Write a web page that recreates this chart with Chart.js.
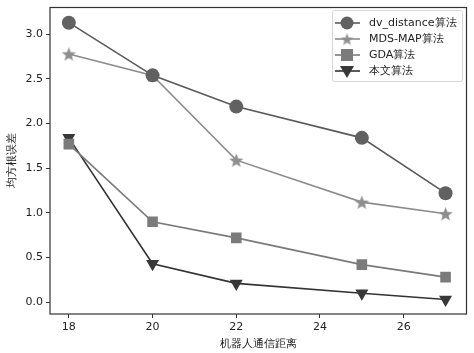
<!DOCTYPE html>
<html>
<head>
<meta charset="utf-8">
<script src="https://cdn.jsdelivr.net/npm/chart.js@4"></script>
<style>
  html, body { margin: 0; padding: 0; background: #fff; }
  #wrap { width: 474px; height: 353px; }
</style>
</head>
<body>
<div id="wrap"><canvas id="c" width="474" height="353"></canvas></div>
<script>
// Data
const distances = [18, 20, 22, 25, 27];
const dvDistance = [3.13, 2.54, 2.19, 1.84, 1.22];
const mdsMap = [2.78, 2.54, 1.59, 1.12, 0.99];
const gda = [1.77, 0.9, 0.72, 0.42, 0.28];
const ours = [1.84, 0.43, 0.21, 0.1, 0.03];

const seriesNames = ["dv_distance算法", "MDS-MAP算法", "GDA算法", "本文算法"];
const xTicks = [18, 20, 22, 24, 26];
const yTicks = [0, 0.5, 1.0, 1.5, 2.0, 2.5, 3.0];

const FONT = "'DejaVu Sans', sans-serif";

// filled five point star used as a marker
function makeStar(size, color) {
  const cv = document.createElement("canvas");
  cv.width = size;
  cv.height = size;
  const g = cv.getContext("2d");
  const cx = size / 2, cy = size / 2 + 0.8;
  const R = size / 2, r = R * 0.42;
  g.beginPath();
  for (let i = 0; i < 10; i++) {
    const rad = i % 2 === 0 ? R : r;
    const a = -Math.PI / 2 + (i * Math.PI) / 5;
    const px = cx + rad * Math.cos(a), py = cy + rad * Math.sin(a);
    if (i === 0) g.moveTo(px, py);
    else g.lineTo(px, py);
  }
  g.closePath();
  g.fillStyle = color;
  g.fill();
  return cv;
}

const starBig = makeStar(15, "#8e8e8e");
const starSmall = makeStar(13, "#8e8e8e");

function toPoints(vals) {
  return vals.map((v, i) => ({ x: distances[i], y: v }));
}

const datasets = [
  {
    label: seriesNames[0],
    data: toPoints(dvDistance),
    borderColor: "#5a5a5a",
    backgroundColor: "#616161",
    pointStyle: "circle",
    pointRadius: 7,
    legendMarker: "circle",
  },
  {
    label: seriesNames[1],
    data: toPoints(mdsMap),
    borderColor: "#8c8c8c",
    backgroundColor: "#8e8e8e",
    pointStyle: starBig,
    pointRadius: 7,
    legendMarker: "star",
  },
  {
    label: seriesNames[2],
    data: toPoints(gda),
    borderColor: "#7a7a7a",
    backgroundColor: "#7b7b7b",
    pointStyle: "rect",
    pointRadius: 7.5,
    legendMarker: "rect",
  },
  {
    label: seriesNames[3],
    data: toPoints(ours),
    borderColor: "#333333",
    backgroundColor: "#383838",
    pointStyle: "triangle",
    pointRotation: 180,
    pointRadius: 7.5,
    legendMarker: "triangle",
  },
];
datasets.forEach((d) => {
  d.borderWidth = 1.6;
  d.pointBorderWidth = 0;
  d.pointBorderColor = d.backgroundColor;
  d.pointBackgroundColor = d.backgroundColor;
  d.tension = 0;
  d.fill = false;
});

// frame around the plot area
const framePlugin = {
  id: "frame",
  afterDraw(chart) {
    const a = chart.chartArea;
    const ctx = chart.ctx;
    ctx.save();
    ctx.strokeStyle = "#333";
    ctx.lineWidth = 1.2;
    ctx.strokeRect(a.left, a.top, a.right - a.left, a.bottom - a.top);
    ctx.restore();
  },
};

// matplotlib style legend in the upper right corner
const legendPlugin = {
  id: "boxLegend",
  afterDraw(chart) {
    const ctx = chart.ctx;
    const bx = 332, by = 10, bw = 130, bh = 71;
    ctx.save();
    ctx.fillStyle = "rgba(255,255,255,0.85)";
    ctx.strokeStyle = "#d6d6d6";
    ctx.lineWidth = 1;
    ctx.beginPath();
    ctx.roundRect(bx + 0.5, by + 0.5, bw, bh, 2);
    ctx.fill();
    ctx.stroke();
    chart.data.datasets.forEach((d, i) => {
      const y = by + 13 + i * 16;
      ctx.strokeStyle = d.borderColor;
      ctx.lineWidth = 1.6;
      ctx.beginPath();
      ctx.moveTo(bx + 3, y);
      ctx.lineTo(bx + 28, y);
      ctx.stroke();
      ctx.fillStyle = d.backgroundColor;
      const mx = bx + 15;
      if (d.legendMarker === "circle") {
        ctx.beginPath();
        ctx.arc(mx, y, 6.5, 0, Math.PI * 2);
        ctx.fill();
      } else if (d.legendMarker === "star") {
        ctx.drawImage(starSmall, mx - 6.5, y - 6.5);
      } else if (d.legendMarker === "rect") {
        ctx.fillRect(mx - 6, y - 6, 12, 12);
      } else {
        ctx.beginPath();
        ctx.moveTo(mx - 7, y - 5);
        ctx.lineTo(mx + 7, y - 5);
        ctx.lineTo(mx, y + 7);
        ctx.closePath();
        ctx.fill();
      }
      ctx.fillStyle = "#222";
      ctx.font = "11px " + FONT;
      ctx.textBaseline = "middle";
      ctx.fillText(d.label, bx + 37, y);
    });
    ctx.restore();
  },
};

new Chart(document.getElementById("c"), {
  type: "line",
  data: { datasets: datasets },
  plugins: [framePlugin, legendPlugin],
  options: {
    responsive: false,
    animation: false,
    layout: { padding: { top: 3, right: 5, left: 0, bottom: 0 } },
    plugins: {
      legend: { display: false },
      tooltip: { enabled: false },
    },
    scales: {
      x: {
        type: "linear",
        min: 17.55,
        max: 27.5,
        afterBuildTicks: (s) => {
          s.ticks = xTicks.map((v) => ({ value: v }));
        },
        afterFit: (s) => {
          s.height = 39;
          s.paddingLeft = 0;
          s.paddingRight = 0;
        },
        grid: {
          display: true,
          drawOnChartArea: false,
          drawTicks: true,
          tickLength: 4,
          color: "#333",
        },
        border: { display: false },
        ticks: {
          color: "#222",
          font: { family: FONT, size: 11 },
          padding: 3,
          maxRotation: 0,
        },
        title: {
          display: true,
          text: "机器人通信距离",
          color: "#222",
          font: { family: FONT, size: 11 },
          padding: { top: 0, bottom: 2 },
        },
      },
      y: {
        min: -0.133,
        max: 3.3,
        afterBuildTicks: (s) => {
          s.ticks = yTicks.map((v) => ({ value: v }));
        },
        afterFit: (s) => {
          s.width = 50;
          s.paddingTop = 0;
          s.paddingBottom = 0;
        },
        grid: {
          display: true,
          drawOnChartArea: false,
          drawTicks: true,
          tickLength: 4,
          color: "#333",
        },
        border: { display: false },
        ticks: {
          color: "#222",
          font: { family: FONT, size: 11 },
          padding: 3,
          callback: (v) => Number(v).toFixed(1),
        },
        title: {
          display: true,
          text: "均方根误差",
          color: "#222",
          font: { family: FONT, size: 11 },
          padding: { top: 6, bottom: 2 },
        },
      },
    },
  },
});
</script>
</body>
</html>
